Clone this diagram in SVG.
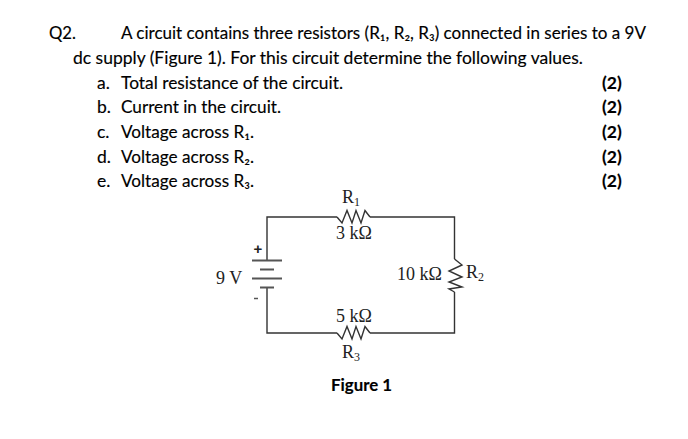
<svg xmlns="http://www.w3.org/2000/svg" width="688" height="439" viewBox="0 0 688 439">
<style>
.t{font-family:"Lato","Carlito","Liberation Sans",sans-serif;font-size:17.5px;fill:#000;stroke:#000;stroke-width:.15}
.b{font-weight:700;font-size:17.5px}
.s{font-family:"Liberation Serif","DejaVu Serif",serif;font-size:18px;fill:#222}
.u{font-size:12px}
.w{fill:none;stroke:#333;stroke-width:1.4}
.c{fill:none;stroke:#555;stroke-width:2}
</style>
<rect width="688" height="439" fill="#fff"/>
<g id="question">
<text class="t" x="49" y="39" textLength="27" lengthAdjust="spacingAndGlyphs">Q2.</text>
<text class="t" x="121" y="39" textLength="525" lengthAdjust="spacingAndGlyphs">A circuit contains three resistors (R₁, R₂, R₃) connected in series to a 9V</text>
<text class="t" x="73" y="64" textLength="510" lengthAdjust="spacingAndGlyphs">dc supply (Figure 1). For this circuit determine the following values.</text>
<text class="t" x="97" y="89">a.</text><text class="t" x="121" y="89" textLength="222" lengthAdjust="spacingAndGlyphs">Total resistance of the circuit.</text>
<text class="t" x="97" y="113">b.</text><text class="t" x="121" y="113" textLength="160" lengthAdjust="spacingAndGlyphs">Current in the circuit.</text>
<text class="t" x="97" y="138">c.</text><text class="t" x="121" y="138" textLength="133" lengthAdjust="spacingAndGlyphs">Voltage across R₁.</text>
<text class="t" x="97" y="163">d.</text><text class="t" x="121" y="163" textLength="133" lengthAdjust="spacingAndGlyphs">Voltage across R₂.</text>
<text class="t" x="97" y="187">e.</text><text class="t" x="121" y="187" textLength="133" lengthAdjust="spacingAndGlyphs">Voltage across R₃.</text>
</g>
<g id="marks">
<text class="t b" x="602" y="89">(2)</text>
<text class="t b" x="602" y="113">(2)</text>
<text class="t b" x="602" y="138">(2)</text>
<text class="t b" x="602" y="163">(2)</text>
<text class="t b" x="602" y="187">(2)</text>
</g>
<g id="connectors">
<path class="w" d="M267 260V217H337M370 217H454.500V259M454.500 292V333H370M337 333H267V288"/>
</g>
<g id="battery">
<path class="c" d="M252 260.500H282M260 269.500H274M252 278.500H282M260 287.500H274"/>
<text x="258" y="254" text-anchor="middle" style="font-family:'Liberation Sans',sans-serif;font-size:15px;font-weight:700;fill:#222">+</text>
<path d="M254 298.500H258" stroke="#555" stroke-width="1.500"/>
<text class="s" x="216" y="284">9 V</text>
</g>
<g id="R1">
<path class="w" d="M337 217L342 223L347 210.500L352 223L356 210.500L361 223L365 210.500L370 217"/>
<text class="s" x="342" y="203">R<tspan class="u" dy="3">1</tspan></text>
<text class="s" x="336" y="239">3 kΩ</text>
</g>
<g id="R2">
<path class="w" d="M454.500 259L462 265L449 271L462 277L449 282L462 287L449 289L454.500 292"/>
<text class="s" x="397" y="280">10 kΩ</text>
<text class="s" x="466" y="278">R<tspan class="u" dy="3">2</tspan></text>
</g>
<g id="R3">
<path class="w" d="M337 333L342 339L347 326.500L352 339L356 326.500L361 339L365 326.500L370 333"/>
<text class="s" x="336" y="322">5 kΩ</text>
<text class="s" x="342" y="358">R<tspan class="u" dy="3">3</tspan></text>
</g>
<g id="caption">
<text class="t b" x="331" y="391" textLength="61" lengthAdjust="spacingAndGlyphs">Figure 1</text>
</g>
</svg>
